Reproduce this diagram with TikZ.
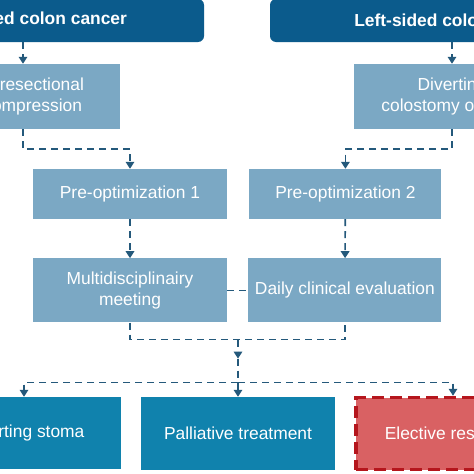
\documentclass[tikz,border=0pt]{standalone}
\usepackage{fontspec}
\setmainfont{Liberation Sans}
\usepackage{xcolor}
\usetikzlibrary{arrows.meta, positioning, calc}
\definecolor{topblue}{HTML}{0B5B8C}
\definecolor{midblue}{HTML}{7BA8C4}
\definecolor{endblue}{HTML}{1082AD}
\definecolor{endred}{HTML}{D96163}
\definecolor{redline}{HTML}{B5161D}
\definecolor{linkblue}{HTML}{24597B}
\tikzstyle{head} = [rectangle, rounded corners=6pt, minimum width=362pt, minimum height=43pt, text centered, fill=topblue, text=white, font=\fontsize{17.4}{21}\selectfont\bfseries]
\tikzstyle{stage} = [rectangle, minimum width=194pt, text centered, align=center, fill=midblue, text=white, font=\fontsize{17.4}{21}\selectfont]
\tikzstyle{outcome} = [rectangle, minimum width=194pt, minimum height=72pt, text centered, fill=endblue, text=white, font=\fontsize{17.4}{21}\selectfont]
\tikzstyle{chosen} = [outcome, fill=endred, draw=redline, line width=3.5pt, dash pattern=on 12pt off 6pt]
\tikzstyle{link} = [line width=1.6pt, draw=linkblue, dash pattern=on 7pt off 5pt]
\tikzstyle{arrow} = [link, -{Triangle[width=8.5pt,length=7pt,fill=linkblue]}]

\begin{document}
\begin{tikzpicture}[x=1pt, y=-1pt, node distance=39pt and 22pt]
    \useasboundingbox (0,0) rectangle (474,474);
    \clip (0,0) rectangle (474,474);
    \fill[white] (0,0) rectangle (474,474);

    \node[head] (right) at (23,20.5) {Right-sided colon cancer};
    \node[head, minimum width=364pt] (left) at (452,20.5) {Left-sided colon cancer};
    \node[stage, minimum height=65pt] (decomp) at (23,96.5) {Non-resectional\\decompression};
    \node[stage, minimum height=65pt, minimum width=196pt] (divert) at (452,96.5) {Diverting\\colostomy or stent};
    \node[stage, minimum height=50pt] (preopt1) at (130,194) {Pre-optimization 1};
    \node[stage, minimum height=50pt, minimum width=192pt, right=22pt of preopt1] (preopt2) {Pre-optimization 2};
    \node[stage, minimum height=64pt, below=39pt of preopt1] (mdm) {Multidisciplinairy\\meeting};
    \node[stage, minimum height=64pt, minimum width=193pt, right=21pt of mdm] (daily) {Daily clinical evaluation};
    \node[outcome] (stoma) at (24,433) {Diverting stoma};
    \node[outcome, minimum height=73pt] (palli) at (238,433.5) {Palliative treatment};
    \node[chosen] (elect) at (453,433.5) {Elective resection};

    \draw[arrow] (right.south) -- (decomp.north);
    \draw[arrow] (left.south) -- (divert.north);
    \draw[arrow] (decomp.south) -- ++(0,20) -| (preopt1.north);
    \draw[arrow] (divert.south) -- ++(0,20) -| (preopt2.north);
    \draw[arrow] (preopt1) -- (mdm);
    \draw[arrow] (preopt2) -- (daily);
    \draw[link] (mdm) -- (daily);
    \draw[link] (mdm.south) -- ++(0,17) coordinate (jl) -| (daily.south);
    \coordinate (join) at (jl -| palli.north);
    \coordinate (pick) at ($(join)+(0,19)$);
    \coordinate (split) at ($(join)+(0,43)$);
    \draw[arrow] (join) -- (pick);
    \draw[arrow] (pick) -- (palli.north);
    \draw[arrow] (split) -| (stoma.north);
    \draw[arrow] (split) -| (elect.north);
\end{tikzpicture}
\end{document}
